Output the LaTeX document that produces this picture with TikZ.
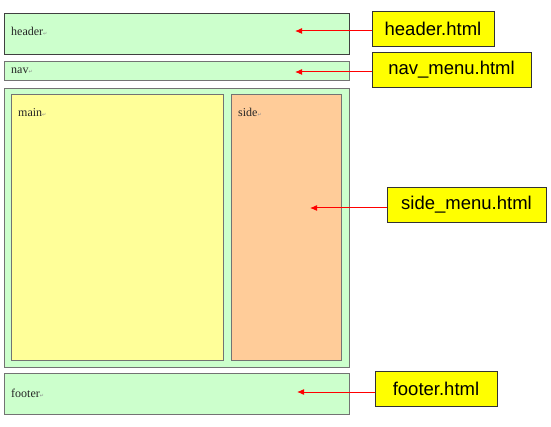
\documentclass[tikz,border=0pt]{standalone}
\usepackage{fontspec}
\setmainfont{Liberation Serif}
\setsansfont{Liberation Sans}
\newfontfamily\markfont{DejaVu Sans}
\usetikzlibrary{positioning,arrows.meta}

\definecolor{paneGreen}{HTML}{CCFFCC}
\definecolor{mainYellow}{HTML}{FFFF99}
\definecolor{sideOrange}{HTML}{FFCC99}
\definecolor{tagYellow}{HTML}{FFFF00}

% paragraph mark after each word, as in the page editor
\newcommand{\parmark}{{\markfont\fontsize{5}{5}\selectfont\color{black!45}↵}}

\tikzset{
  pane/.style={draw=black!55, line width=0.8pt, inner sep=0pt},
  word/.style={anchor=west, inner sep=0pt, font=\fontsize{12}{12}\selectfont, text=black!85},
  tag/.style={draw=black!80, fill=tagYellow, line width=0.8pt, minimum height=35pt,
    inner sep=0pt, font=\sffamily\fontsize{18.5}{20}\selectfont},
  pointer/.style={draw=red, line width=1pt, -{Latex[length=7pt,width=6pt]}}
}

\begin{document}
\begin{tikzpicture}[x=1pt,y=-1pt]
\useasboundingbox (0,0) rectangle (551,427);

% page boxes
\node[pane, draw=black!75, fill=paneGreen, minimum width=345pt, minimum height=41pt] (header) at (176.5,33.5) {};
\node[pane, fill=paneGreen, minimum width=345pt, minimum height=19pt] (nav) at (176.5,70.5) {};
\node[pane, fill=paneGreen, minimum width=345pt, minimum height=279pt] (wrap) at (176.5,227.5) {};
\node[pane, fill=mainYellow, minimum width=212pt, minimum height=266pt] (main) at (117,227) {};
\node[pane, fill=sideOrange, minimum width=110pt, minimum height=266pt] (side) at (286,227) {};
\node[pane, fill=paneGreen, minimum width=345pt, minimum height=41pt] (footer) at (176.5,393.5) {};

% words in the boxes
\node[word] (headerword) at (11,31) {header\parmark};
\node[word] (navword) at (11,71) {nav\parmark};
\node[word] (mainword) at (18,113) {main\parmark};
\node[word] (sideword) at (238,112) {side\parmark};
\node[word] (footerword) at (11,393) {footer\parmark};

% file names
\node[tag, minimum width=122pt] (headertag) at (433,29) {header.html};
\node[tag, minimum width=159pt] (navtag) at (451.5,70) {nav\_menu.html};
\node[tag, minimum width=159pt] (sidetag) at (466.5,205) {side\_menu.html};
\node[tag, minimum width=122pt] (footertag) at (436,389) {footer.html};

\coordinate (headerend) at (295,31);
\coordinate (navend) at (295,72);
\coordinate (sideend) at (310,208);
\coordinate (footerend) at (297,392);

\draw[pointer] (headertag.west |- headerend) -- (headerend);
\draw[pointer] (navtag.west |- navend) -- (navend);
\draw[pointer] (sidetag.west |- sideend) -- (sideend);
\draw[pointer] (footertag.west |- footerend) -- (footerend);
\end{tikzpicture}
\end{document}
